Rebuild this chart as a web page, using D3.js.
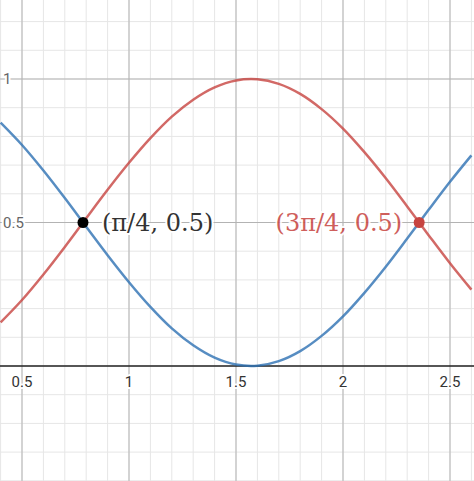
<!DOCTYPE html>
<html>
<head>
<meta charset="utf-8">
<script src="https://cdn.jsdelivr.net/npm/d3@7"></script>
<style>
  body { margin: 0; background: #fff; }
</style>
</head>
<body>
<svg id="chart"></svg>
<script>
const width = 474, height = 481;

const xs = [0.4, 0.5, 0.6, 0.7, 0.8, 0.9, 1.0, 1.1, 1.2, 1.3, 1.4, 1.5,
            1.6, 1.7, 1.8, 1.9, 2.0, 2.1, 2.2, 2.3, 2.4, 2.5, 2.6];
const redValues = [0.152, 0.230, 0.319, 0.415, 0.515, 0.614, 0.708, 0.794, 0.869, 0.928, 0.971, 0.995,
                   0.999, 0.983, 0.948, 0.895, 0.827, 0.745, 0.654, 0.556, 0.456, 0.358, 0.266];
const blueValues = [0.848, 0.770, 0.681, 0.585, 0.485, 0.386, 0.292, 0.206, 0.131, 0.072, 0.029, 0.005,
                    0.001, 0.017, 0.052, 0.105, 0.173, 0.255, 0.346, 0.444, 0.544, 0.642, 0.734];
const xTicks = [0.5, 1, 1.5, 2, 2.5];
const xTickLabels = ["0.5", "1", "1.5", "2", "2.5"];
const yTicks = [0.5, 1];
const yTickLabels = ["0.5", "1"];
const points = [
  { x: 0.785, y: 0.5, label: "(π/4, 0.5)", color: "#000000", anchor: "start", dx: 19 },
  { x: 2.356, y: 0.5, label: "(3π/4, 0.5)", color: "#c74440", anchor: "end", dx: -17 }
];

const x = d3.scaleLinear().domain([0, 2.5]).range([-85, 450]);
const y = d3.scaleLinear().domain([0, 1]).range([366, 79]);

const svg = d3.select("#chart").attr("width", width).attr("height", height);

// minor grid
const minorX = d3.range(0.4, 2.65, 0.1);
const minorY = d3.range(-0.4, 1.31, 0.1);
svg.append("g").selectAll("line").data(minorX).enter().append("line")
  .attr("x1", d => x(d)).attr("x2", d => x(d)).attr("y1", 0).attr("y2", height)
  .attr("stroke", "#e6e6e6").attr("stroke-width", 1);
svg.append("g").selectAll("line").data(minorY).enter().append("line")
  .attr("y1", d => y(d)).attr("y2", d => y(d)).attr("x1", 0).attr("x2", width)
  .attr("stroke", "#e6e6e6").attr("stroke-width", 1);

// major grid
svg.append("g").selectAll("line").data(xTicks).enter().append("line")
  .attr("x1", d => x(d)).attr("x2", d => x(d)).attr("y1", 0).attr("y2", height)
  .attr("stroke", "#b3b3b3").attr("stroke-width", 1);
svg.append("g").selectAll("line").data(yTicks).enter().append("line")
  .attr("y1", d => y(d)).attr("y2", d => y(d)).attr("x1", 0).attr("x2", width)
  .attr("stroke", "#b3b3b3").attr("stroke-width", 1);

// x axis
svg.append("line").attr("x1", 0).attr("x2", width).attr("y1", y(0)).attr("y2", y(0))
  .attr("stroke", "#222").attr("stroke-width", 1.5);

// tick labels
const labelStyle = sel => sel.attr("font-family", "Roboto, sans-serif").attr("font-size", 15)
  .attr("fill", "#333").attr("paint-order", "stroke").attr("stroke", "#fff")
  .attr("stroke-width", 4).attr("stroke-linejoin", "round");
svg.append("g").selectAll("text").data(xTicks).enter().append("text")
  .attr("x", d => x(d)).attr("y", y(0) + 21).attr("text-anchor", "middle")
  .text((d, i) => xTickLabels[i]).call(labelStyle);
svg.append("g").selectAll("text").data(yTicks).enter().append("text")
  .attr("x", 3).attr("y", d => y(d) + 5).attr("text-anchor", "start")
  .text((d, i) => yTickLabels[i]).call(labelStyle).attr("fill", "#666");

// curves
const line = d3.line().curve(d3.curveCatmullRom).x((d, i) => x(xs[i])).y(d => y(d));
svg.append("path").datum(redValues).attr("d", line)
  .attr("fill", "none").attr("stroke", "#c74440").attr("stroke-width", 2.5).attr("opacity", 0.8);
svg.append("path").datum(blueValues).attr("d", line)
  .attr("fill", "none").attr("stroke", "#2d70b3").attr("stroke-width", 2.5).attr("opacity", 0.8);

// points and labels
svg.append("g").selectAll("circle").data(points).enter().append("circle")
  .attr("cx", d => x(d.x)).attr("cy", d => y(d.y)).attr("r", 5.5).attr("fill", d => d.color);
svg.append("g").selectAll("text").data(points).enter().append("text")
  .attr("x", d => x(d.x) + d.dx).attr("y", d => y(d.y) + 8)
  .attr("text-anchor", d => d.anchor)
  .attr("font-family", "'DejaVu Serif', 'Liberation Serif', serif").attr("font-size", 24)
  .attr("fill", d => d.color === "#000000" ? "#333" : d.color)
  .attr("opacity", d => d.color === "#000000" ? 1 : 0.85)
  .attr("paint-order", "stroke").attr("stroke", "#fff").attr("stroke-width", 4)
  .text(d => d.label);
</script>
</body>
</html>
